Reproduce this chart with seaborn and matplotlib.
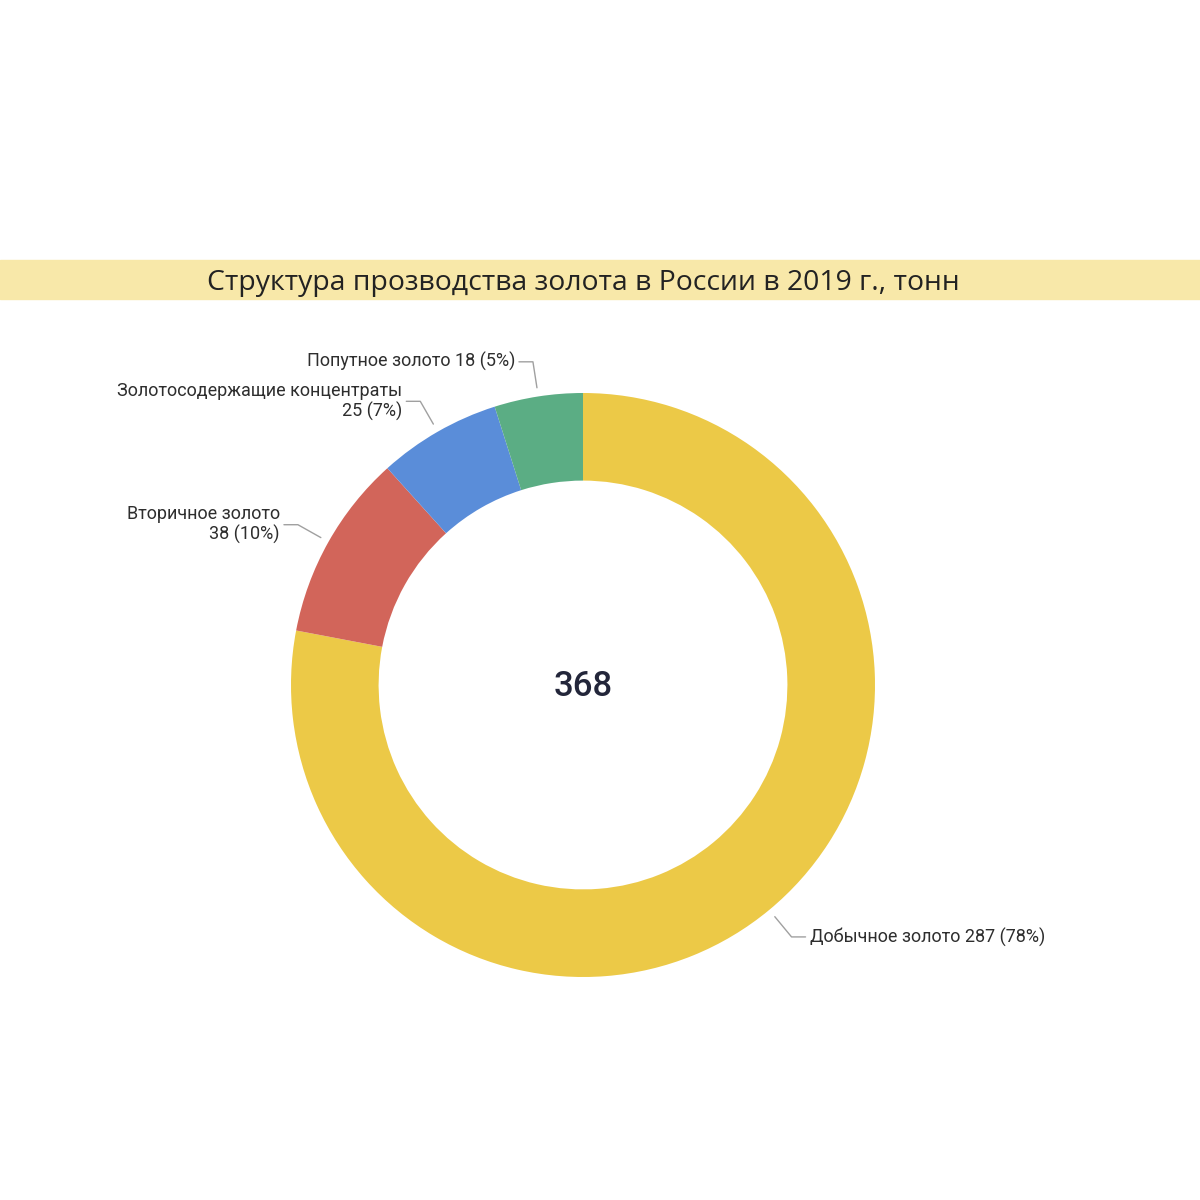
import numpy as np
import matplotlib
matplotlib.use('Agg')
import matplotlib.pyplot as plt
import seaborn as sns

# data
categories = ['Добычное золото', 'Вторичное золото', 'Золотосодержащие концентраты', 'Попутное золото']
values = [287, 38, 25, 18]
shares = [78, 10, 7, 5]
label_texts = ['Добычное золото 287 (78%)', 'Вторичное золото\n38 (10%)',
               'Золотосодержащие концентраты\n25 (7%)', 'Попутное золото 18 (5%)']
total_label = '368'
title = 'Структура прозводства золота в России в 2019 г., тонн'

sns.set_theme(style='white')
plt.rcParams['font.family'] = ['Roboto', 'DejaVu Sans']

colors = ['#ECC947', '#D2655A', '#5A8DD9', '#5BAD84']

fig = plt.figure(figsize=(12, 12), dpi=100)
ax = fig.add_axes([0, 0, 1, 1])

# donut, center/radius in pixel-like units
cx, cy, R = 583, 515, 292
wedges, _ = ax.pie(values, colors=colors, startangle=90, counterclock=False,
                   center=(cx, cy), radius=R,
                   wedgeprops=dict(width=R * 0.30, edgecolor='none'))
ax.set_xlim(0, 1200)
ax.set_ylim(0, 1200)
ax.set_aspect('equal')
ax.axis('off')

# title band
ax.axhspan(1200 - 299, 1200 - 260, color='#F8E8A9', zorder=0)
ax.text(583, 1200 - 283, title, ha='center', va='center', fontsize=20.4,
        family=['Open Sans', 'DejaVu Sans'], color='#222222')

# centre total
ax.text(cx, cy - 1, total_label, ha='center', va='center', fontsize=25,
        family=['Roboto', 'DejaVu Sans'], color='#23263A', fontweight=500)

# leader lines + labels
for w, txt in zip(wedges, label_texts):
    ang = np.deg2rad((w.theta1 + w.theta2) / 2)
    c, s = np.cos(ang), np.sin(ang)
    p0 = (cx + R * 1.03 * c, cy + R * 1.03 * s)
    p1 = (cx + R * 1.12 * c, cy + R * 1.12 * s)
    d = 1 if c >= 0 else -1
    p2 = (p1[0] + d * 14, p1[1])
    ax.plot([p0[0], p1[0], p2[0]], [p0[1], p1[1], p2[1]], color='#A0A0A0', lw=1)
    ax.text(p2[0] + d * 4, p2[1], txt, ha='left' if d > 0 else 'right', va='center',
            fontsize=13.0, color='#2E2E2E', linespacing=1.1,
            multialignment='right' if d < 0 else 'left')

fig.savefig('out.png', dpi=100, facecolor='white')
